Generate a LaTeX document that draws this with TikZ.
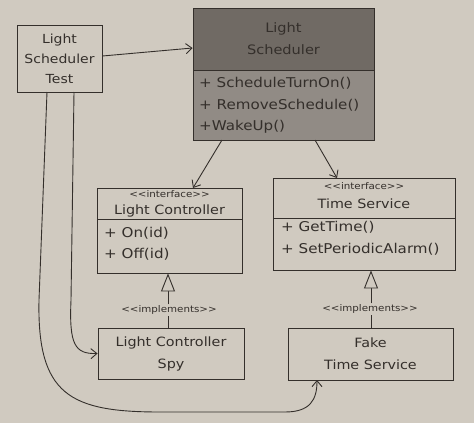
\documentclass[tikz,border=0pt]{standalone}
\usepackage{fontspec}
\setmainfont[FakeStretch=1.12]{DejaVu Sans}
\usetikzlibrary{arrows.meta}
\definecolor{paper}{RGB}{208,202,192}
\definecolor{ink}{RGB}{52,47,43}
\definecolor{darkfill}{RGB}{112,106,100}
\definecolor{midfill}{RGB}{145,139,133}
\begin{document}
\begin{tikzpicture}[x=1pt,y=-1pt,
  every node/.style={text=ink},
  box/.style={draw=ink,line width=0.9pt,rectangle,inner sep=0pt,align=center,font=\fontsize{12.5}{21}\selectfont},
  body/.style={draw=ink,line width=0.9pt,rectangle,inner sep=0pt},
  op/.style={anchor=west,inner sep=0pt,font=\fontsize{13.5}{15}\selectfont},
  title/.style={inner sep=0pt,font=\fontsize{12.8}{14}\selectfont},
  stereo/.style={inner sep=1pt,font=\fontsize{9.2}{10}\selectfont},
  assoc/.style={draw=ink,line width=0.9pt,-{Straight Barb[length=6pt,width=10pt]}},
  gen/.style={draw=ink,line width=0.9pt,-{Triangle[open,length=18pt,width=14pt,fill=paper]}},
  plain/.style={draw=ink,line width=0.9pt}]
\fill[paper] (0,0) rectangle (474,423);
\useasboundingbox (0,0) rectangle (474,423);

% Light Scheduler Test
\node[box,minimum width=85pt,minimum height=67pt,font=\fontsize{12.5}{20}\selectfont] (lst) at (59.5,58.5) {Light\\Scheduler\\Test};

% Light Scheduler
\node[box,fill=darkfill,minimum width=181pt,minimum height=62pt,font=\fontsize{13}{22}\selectfont] (lsh) at (283.5,39) {Light\\Scheduler};
\node[body,fill=midfill,minimum width=181pt,minimum height=70pt] (lsb) at (283.5,105) {};
\node[op] (ls1) at (199,83) {+ ScheduleTurnOn()};
\node[op] (ls2) at (199,105) {+ RemoveSchedule()};
\node[op] (ls3) at (199,127) {+WakeUp()};

% Light Controller interface
\node[body,minimum width=145pt,minimum height=31pt] (lch) at (169.5,203.5) {};
\node[stereo] (lcst) at (169.5,194.5) {{<}{<}interface{>}{>}};
\node[title] (lcname) at (169.5,210.5) {Light Controller};
\node[body,minimum width=145pt,minimum height=54pt] (lcb) at (169.5,246) {};
\node[op] (lc1) at (104,233) {+ On(id)};
\node[op] (lc2) at (104,254) {+ Off(id)};

% Time Service interface
\node[body,minimum width=182pt,minimum height=40pt] (tsh) at (364,198) {};
\node[stereo] (tsst) at (364,186.5) {{<}{<}interface{>}{>}};
\node[title] (tsname) at (364,204) {Time Service};
\node[body,minimum width=182pt,minimum height=52pt] (tsb) at (364,244) {};
\node[op] (ts1) at (281,227) {+ GetTime()};
\node[op] (ts2) at (281,249) {+ SetPeriodicAlarm()};

% Spy and Fake
\node[box,minimum width=146pt,minimum height=51pt,font=\fontsize{12.8}{22}\selectfont] (spy) at (171,353.5) {Light Controller\\Spy};
\node[box,minimum width=165pt,minimum height=52pt,font=\fontsize{12.8}{22}\selectfont] (fake) at (370.5,354) {Fake\\Time Service};

% implements labels
\node[stereo] (imp1) at (169,310) {{<}{<}implements{>}{>}};
\node[stereo] (imp2) at (370,309) {{<}{<}implements{>}{>}};

% associations
\draw[assoc] (lst.east |- 0,56) -- (lsh.west |- 0,48);
\coordinate (lsa) at (222,140);
\coordinate (lsb2) at (315,140);
\draw[assoc] (lsa) -- (193,188);
\draw[assoc] (lsb2) -- (337,178);

% generalizations
\draw[plain] (spy.north -| 168,0) -- (imp1.south -| 168,0);
\draw[gen] (imp1.north -| 168,0) -- (lcb.south -| 168,0);
\draw[plain] (fake.north -| 371,0) -- (imp2.south -| 371,0);
\draw[gen] (imp2.north -| 371,0) -- (tsb.south -| 371,0);

% curves from test
\coordinate (c1) at (74,92);
\coordinate (c2) at (47,92);
\draw[assoc] (c1) -- (71,300) .. controls (69,345) and (75,354) .. (spy.west);
\draw[assoc] (c2) -- (39,300) .. controls (37,395) and (70,412) .. (160,412) -- (285,412) .. controls (310,412) and (317,400) .. (317,380);
\end{tikzpicture}
\end{document}
